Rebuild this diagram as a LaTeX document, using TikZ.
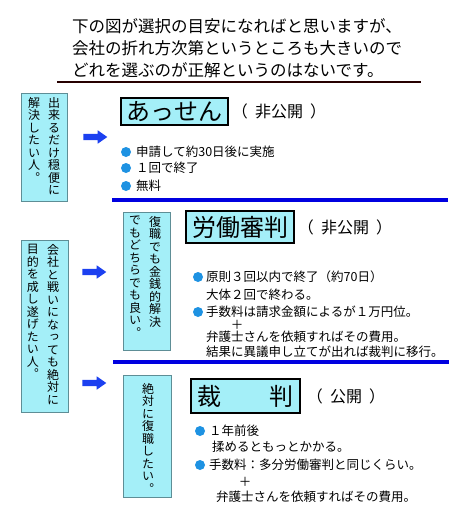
\documentclass[tikz,border=0pt]{standalone}
\usepackage{fontspec}
\setmainfont{Noto Sans CJK JP}
\newfontfamily\tatefont[RawFeature=+vert]{Noto Sans CJK JP}
\usetikzlibrary{positioning,shapes.arrows}
\definecolor{boxfill}{HTML}{A4EFF8}
\definecolor{boxline}{HTML}{5E8E96}
\definecolor{dotcol}{HTML}{1E92E2}
\definecolor{arrcol}{HTML}{1C40F0}
\definecolor{rulecol}{HTML}{0000E0}

\tikzset{
  tatebox/.style={draw=boxline, fill=boxfill, line width=1pt, inner sep=0},
  tatecol/.style={anchor=north, align=center, inner sep=0, font=\tatefont\fontsize{12}{12.5}\selectfont},
  titlebox/.style={draw=black, line width=1.3pt, fill=boxfill, inner sep=0, font=\fontsize{24}{24}\selectfont},
  paren/.style={inner sep=0, font=\fontsize{16}{16}\selectfont},
  item/.style={anchor=west, inner sep=0, font=\fontsize{12.5}{12.5}\selectfont},
  dot/.style={circle, fill=dotcol, inner sep=0, minimum size=10},
  blockarrow/.style={single arrow, fill=arrcol, inner xsep=0, inner ysep=3, minimum height=24,
    single arrow head extend=3.5, single arrow tip angle=70},
}
\newcommand\gap{\hspace{0.45em}}

\begin{document}
\begin{tikzpicture}[x=1pt, y=-1pt]
  \useasboundingbox (0,0) rectangle (474,522);

  % heading
  \node[item, font=\fontsize{16.5}{16.5}\selectfont] (head1) at (72,26) {下の図が選択の目安になればと思いますが、};
  \node[item, font=\fontsize{16.5}{16.5}\selectfont] (head2) at (72,48) {会社の折れ方次第というところも大きいので};
  \node[item, font=\fontsize{16.5}{16.5}\selectfont] (head3) at (72,70) {どれを選ぶのが正解というのはないです。};
  \draw[line width=2.5pt, black!85!red] (57,82) -- (421,82);

  % left column: who wants what
  \node[tatebox, minimum width=46, minimum height=108] (wish1) at (44.5,147) {};
  \node[tatecol] (wish1r) at (54,97) {出\\来\\る\\だ\\け\\穏\\便\\に};
  \node[tatecol] (wish1l) at (34,97) {解\\決\\し\\た\\い\\人\\。};
  \node[tatebox, minimum width=47, minimum height=172] (wish2) at (44.5,326) {};
  \node[tatecol] (wish2r) at (53,244) {会\\社\\と\\戦\\い\\に\\な\\っ\\て\\も\\絶\\対\\に};
  \node[tatecol] (wish2l) at (33,244) {目\\的\\を\\成\\し\\遂\\げ\\た\\い\\人\\。};

  % arrows
  \node[blockarrow] (arr1) at (93,137) {};
  \node[blockarrow] (arr2) at (92,272) {};
  \node[blockarrow] (arr3) at (92,383) {};

  % middle column
  \node[tatebox, minimum width=47, minimum height=138] (aim2) at (146.5,281) {};
  \node[tatecol] (aim2r) at (155,216) {復\\職\\で\\も\\金\\銭\\的\\解\\決};
  \node[tatecol] (aim2l) at (135,216) {で\\も\\ど\\ち\\ら\\で\\も\\良\\い\\。};
  \node[tatebox, minimum width=48, minimum height=122] (aim3) at (147,436) {};
  \node[tatecol] (aim3c) at (148,383) {絶\\対\\に\\復\\職\\し\\た\\い\\。};

  % あっせん
  \node[titlebox, minimum width=107, minimum height=27] (assen) at (174.5,111.5) {あっせん};
  \node[paren, anchor=west, right=3pt of assen] (assenp) {（\gap 非公開\gap ）};
  \foreach \y in {152,168,186} \node[dot] at (126,\y) {};
  \node[item] (a1) at (136,152) {申請して約30日後に実施};
  \node[item] (a2) at (136,168) {１回で終了};
  \node[item] (a3) at (136,186) {無料};
  \draw[line width=3.5pt, rulecol] (112,200) -- (448,200);

  % 労働審判
  \node[titlebox, minimum width=108, minimum height=32] (roudou) at (240,227) {労働審判};
  \node[paren, anchor=west, right=3pt of roudou] (roudoup) {（\gap 非公開\gap ）};
  \foreach \y in {277,312} \node[dot] at (198,\y) {};
  \node[item] (r1) at (206,277) {原則３回以内で終了（約70日）};
  \node[item] (r2) at (206,295) {大体２回で終わる。};
  \node[item] (r3) at (206,312) {手数料は請求金額によるが１万円位。};
  \node[item, anchor=center] (r4) at (237,325) {＋};
  \node[item] (r5) at (206,337) {弁護士さんを依頼すればその費用。};
  \node[item] (r6) at (206,352) {結果に異議申し立てが出れば裁判に移行。};
  \draw[line width=3.5pt, rulecol] (113,362) -- (449,362);

  % 裁判
  \node[titlebox, minimum width=109, minimum height=34] (saiban) at (245.5,396) {裁\hspace{2em}判};
  \node[paren, anchor=west, right=6pt of saiban] (saibanp) {（\gap 公開\gap ）};
  \foreach \y in {431,465} \node[dot] at (200,\y) {};
  \node[item] (s1) at (209,431) {１年前後};
  \node[item] (s2) at (212,447) {揉めるともっとかかる。};
  \node[item] (s3) at (209,465) {手数料：多分労働審判と同じくらい。};
  \node[item, anchor=center] (s4) at (245,482) {＋};
  \node[item] (s5) at (216,497) {弁護士さんを依頼すればその費用。};
\end{tikzpicture}
\end{document}
